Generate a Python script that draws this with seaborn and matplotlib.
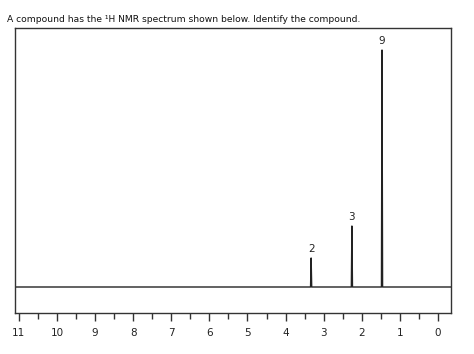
import matplotlib
matplotlib.use("Agg")
import matplotlib.pyplot as plt
import seaborn as sns
import pandas as pd
import numpy as np

# Data
peak_ppm = [3.33, 2.26, 1.47]
peak_height = [29, 61, 237]
peak_label = ["2", "3", "9"]
tick_values = list(range(11, -1, -1))
tick_labels = [str(v) for v in tick_values]
title = "A compound has the \u00b9H NMR spectrum shown below. Identify the compound."

sns.set_style("white")
plt.rcParams['font.family'] = ['DejaVu Sans']

fig = plt.figure(figsize=(4.74, 3.54), dpi=100)
ax = fig.add_axes([15/474, 41/354, 436/474, 285/354])

# build spectrum trace from peak lists
half_w = 0.015
xs, ys = [11.2], [0]
for p, h in sorted(zip(peak_ppm, peak_height), reverse=True):
    xs += [p + half_w, p, p - half_w]
    ys += [0, h, 0]
xs.append(-0.4)
ys.append(0)
df = pd.DataFrame({"ppm": xs, "intensity": ys})
sns.lineplot(data=df, x="ppm", y="intensity", ax=ax, color="#222222", lw=1.0,
             sort=False, estimator=None)

for p, h, lab in zip(peak_ppm, peak_height, peak_label):
    ax.text(p, h + 4, lab, ha="center", va="bottom", fontsize=7.5, color="#222222")

ax.set_xlim(11.1, -0.34)
ax.set_ylim(-26, 259)
ax.set_xticks(tick_values)
ax.set_xticklabels(tick_labels)
ax.set_xticks(np.arange(10.5, 0, -1), minor=True)
ax.set_yticks([])
ax.set_xlabel("")
ax.set_ylabel("")
ax.tick_params(axis="x", which="major", direction="out", length=6, width=1,
               color="#333333", labelsize=7.5, labelcolor="#222222", pad=5, bottom=True)
ax.tick_params(axis="x", which="minor", direction="out", length=4, width=1,
               color="#333333", bottom=True)
for s in ax.spines.values():
    s.set_color("#333333")
    s.set_linewidth(1.0)

fig.text(7/474, 1 - 19/354, title, fontsize=6.6, color="#111111", va="center", ha="left")

fig.savefig("out.png", dpi=100, facecolor="white")
